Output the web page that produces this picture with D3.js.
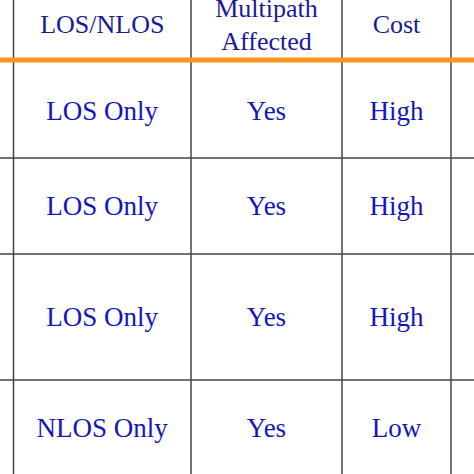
<!DOCTYPE html>
<html>
<head>
<meta charset="utf-8">
<script src="https://cdn.jsdelivr.net/npm/d3@7"></script>
<style>
  body { margin: 0; background: #fff; }
</style>
</head>
<body>
<div id="chart"></div>
<script>
const headers = [["LOS/NLOS"], ["Multipath", "Affected"], ["Cost"]];
const losNlos = ["LOS Only", "LOS Only", "LOS Only", "NLOS Only"];
const multipath = ["Yes", "Yes", "Yes", "Yes"];
const cost = ["High", "High", "High", "Low"];

const width = 474, height = 474;

// column edges and row edges (layout)
const colX = d3.scaleOrdinal().domain([0, 1, 2, 3]).range([13.5, 191, 342, 451]);
const rowY = d3.scaleOrdinal().domain([0, 1, 2, 3, 4, 5]).range([-40, 60, 158, 254, 380, 500]);

const svg = d3.select("#chart").append("svg")
  .attr("width", width).attr("height", height);

svg.append("rect").attr("width", width).attr("height", height).attr("fill", "#fff");

// vertical lines
svg.selectAll(".vline").data([0, 1, 2, 3]).enter().append("line")
  .attr("x1", d => colX(d)).attr("x2", d => colX(d))
  .attr("y1", 0).attr("y2", height)
  .attr("stroke", "#444").attr("stroke-width", 1.5);

// horizontal lines
svg.selectAll(".hline").data([2, 3, 4]).enter().append("line")
  .attr("x1", 0).attr("x2", width)
  .attr("y1", d => rowY(d)).attr("y2", d => rowY(d))
  .attr("stroke", "#444").attr("stroke-width", 1.5);

// orange header rule
svg.append("line")
  .attr("x1", 0).attr("x2", width)
  .attr("y1", rowY(1)).attr("y2", rowY(1))
  .attr("stroke", "#f7941d").attr("stroke-width", 5);

const font = "'Liberation Serif', 'Times New Roman', serif";
const cx = i => (colX(i) + colX(i + 1)) / 2;

// header
headers.forEach((lines, i) => {
  const t = svg.append("text")
    .attr("x", cx(i)).attr("text-anchor", "middle")
    .attr("font-family", font).attr("font-size", 26)
    .attr("fill", "#1a1a99");
  const y0 = lines.length === 1 ? 33 : 17;
  lines.forEach((l, j) => {
    t.append("tspan").attr("x", cx(i)).attr("y", y0 + j * 33).text(l);
  });
});

// body
const bodyCenters = [111, 206, 317, 428];
const columns = [losNlos, multipath, cost];
columns.forEach((col, i) => {
  svg.selectAll(null).data(col).enter().append("text")
    .attr("x", cx(i))
    .attr("y", (d, r) => bodyCenters[r])
    .attr("dy", "0.35em")
    .attr("text-anchor", "middle")
    .attr("font-family", font).attr("font-size", 27)
    .attr("fill", "#1515b8")
    .text(d => d);
});
</script>
</body>
</html>
